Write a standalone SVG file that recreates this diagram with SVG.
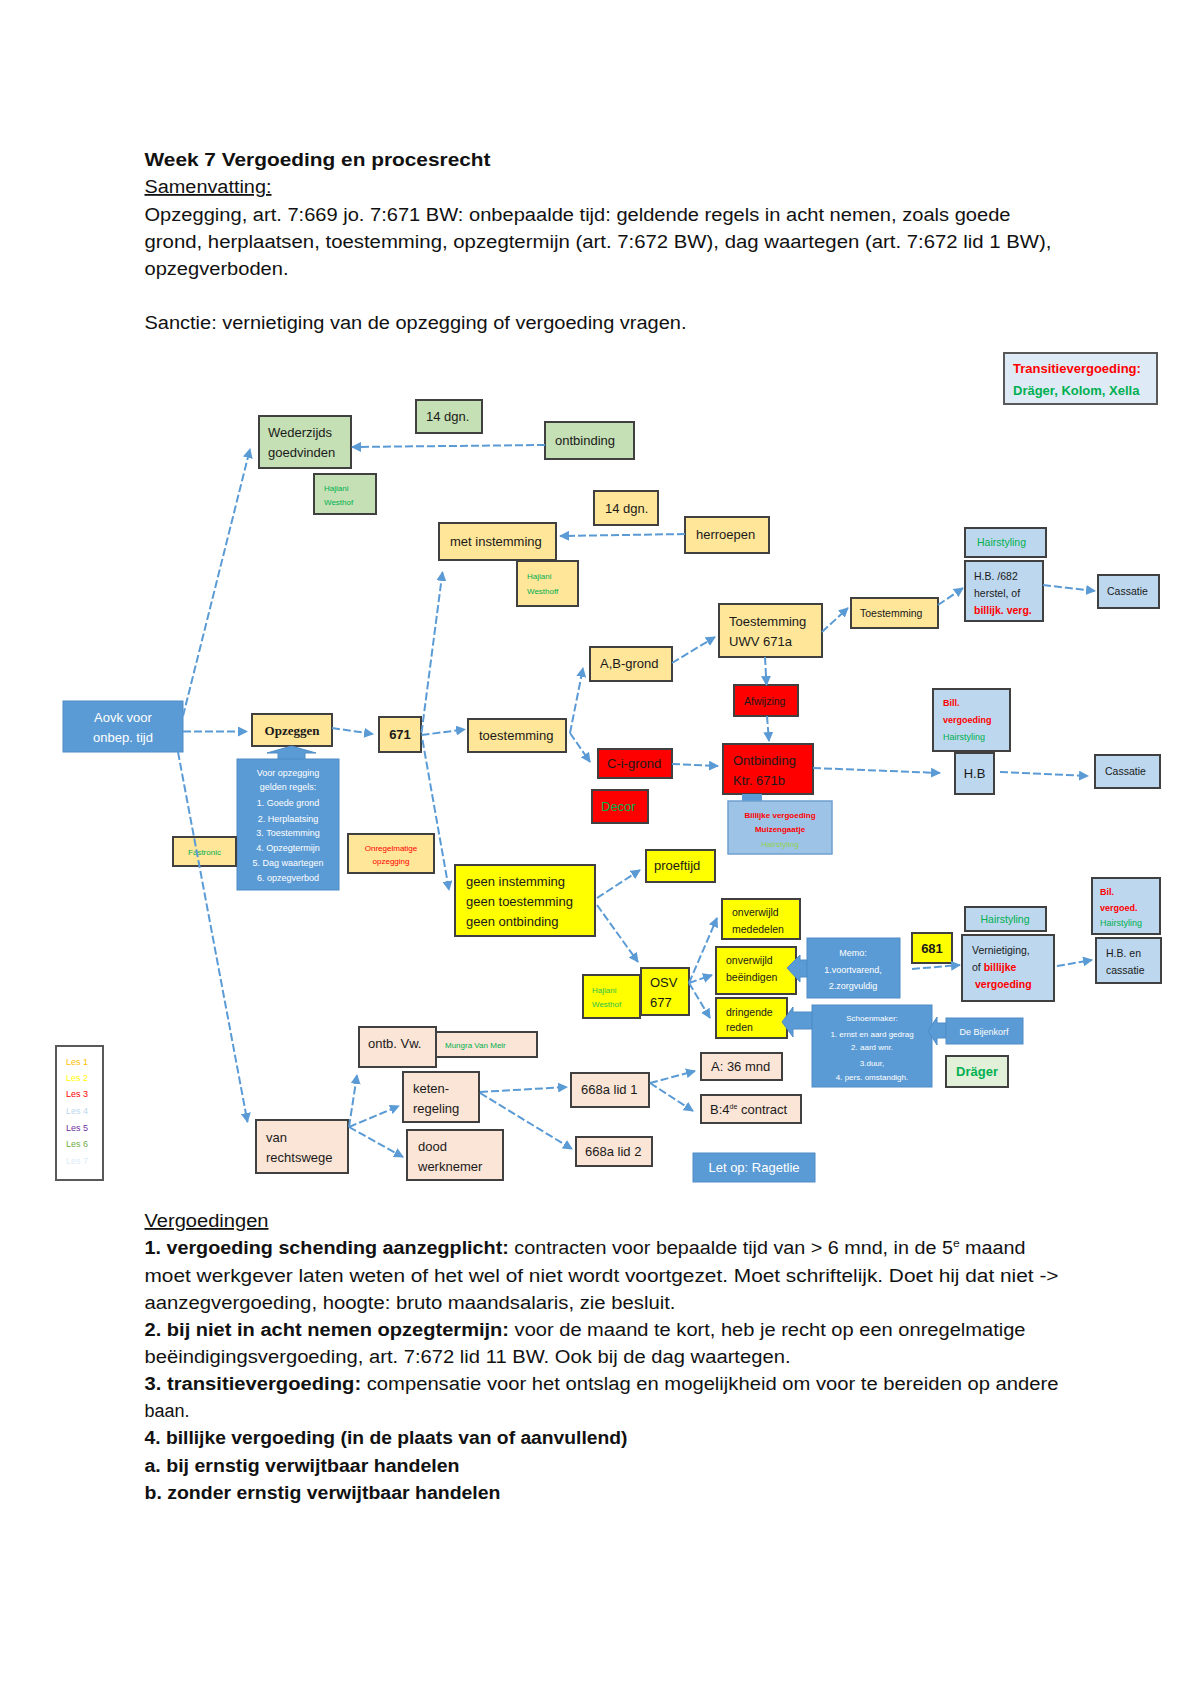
<svg xmlns="http://www.w3.org/2000/svg" width="1200" height="1698" viewBox="0 0 1200 1698">
<defs>
<marker id="ah" viewBox="0 0 10 10" refX="9" refY="5" markerWidth="10" markerHeight="10" markerUnits="userSpaceOnUse" orient="auto">
<path d="M0,0 L10,5 L0,10 z" fill="#5b9bd5"/>
</marker>
<style>
.bx{stroke:#404040;stroke-width:2}
.g{fill:#c5e0b4}.o{fill:#ffe699}.r{fill:#ff0000}.y{fill:#ffff00}.lb{fill:#bdd7ee}.p{fill:#fbe5d6}
.b{fill:#5b9bd5;stroke:#4f8cc6;stroke-width:1}
.t{font-family:"Liberation Sans",Arial,sans-serif;font-size:13px;fill:#1a1a1a}
.s{font-size:10.5px}.xs{font-size:9px}.xxs{font-size:8px}
.w{fill:#fff}.gr{fill:#00b050}.rd{fill:#ff0000}
.m{text-anchor:middle}
.bd{font-weight:bold}
.c{stroke:#5b9bd5;stroke-width:2;fill:none;stroke-dasharray:8 3;marker-end:url(#ah)}
.para{font-family:"Liberation Sans",Arial,sans-serif;font-size:18px;fill:#111}
</style>
</defs>
<rect width="1200" height="1698" fill="#fff"/>

<!-- header text -->
<g id="header">
<text class="para bd" x="144.5" y="166" font-size="20" textLength="346" lengthAdjust="spacingAndGlyphs">Week 7 Vergoeding en procesrecht</text>
<text class="para" x="144.5" y="193" text-decoration="underline" textLength="127" lengthAdjust="spacingAndGlyphs">Samenvatting:</text>
<text class="para" x="144.5" y="220.5" textLength="866" lengthAdjust="spacingAndGlyphs">Opzegging, art. 7:669 jo. 7:671 BW: onbepaalde tijd: geldende regels in acht nemen, zoals goede</text>
<text class="para" x="144.5" y="247.6" textLength="907" lengthAdjust="spacingAndGlyphs">grond, herplaatsen, toestemming, opzegtermijn (art. 7:672 BW), dag waartegen (art. 7:672 lid 1 BW),</text>
<text class="para" x="144.5" y="274.8" textLength="144" lengthAdjust="spacingAndGlyphs">opzegverboden.</text>
<text class="para" x="144.5" y="329" textLength="542" lengthAdjust="spacingAndGlyphs">Sanctie: vernietiging van de opzegging of vergoeding vragen.</text>
</g>

<!-- nodes -->
<g id="n-transitie"><rect x="1004" y="353" width="153" height="51" fill="#deebf7" stroke="#595959" stroke-width="2"/>
<text class="t bd rd" x="1013" y="373" font-size="11">Transitievergoeding:</text>
<text class="t bd gr" x="1013" y="395" font-size="11">Dräger, Kolom, Xella</text></g>

<g id="n-wederzijds"><rect class="bx g" x="259" y="416" width="92" height="52"/>
<text class="t" x="268" y="437">Wederzijds</text><text class="t" x="268" y="457">goedvinden</text></g>
<g id="n-hajiani1"><rect class="bx g" x="314" y="474" width="62" height="40"/>
<text class="t xxs gr" x="324" y="491">Hajiani</text><text class="t xxs gr" x="324" y="505">Westhof</text></g>
<g id="n-14dgn1"><rect class="bx g" x="416" y="400" width="66" height="33"/>
<text class="t" x="426" y="421">14 dgn.</text></g>
<g id="n-ontbinding"><rect class="bx g" x="545" y="422" width="89" height="37"/>
<text class="t" x="555" y="445">ontbinding</text></g>
<g id="n-14dgn2"><rect class="bx o" x="594" y="491" width="64" height="34"/>
<text class="t" x="605" y="513">14 dgn.</text></g>
<g id="n-herroepen"><rect class="bx o" x="685" y="517" width="84" height="36"/>
<text class="t" x="696" y="539">herroepen</text></g>
<g id="n-metinstemming"><rect class="bx o" x="439" y="523" width="117" height="37"/>
<text class="t" x="450" y="546">met instemming</text></g>
<g id="n-hajiani2"><rect class="bx o" x="517" y="561" width="61" height="45"/>
<text class="t xxs gr" x="527" y="579">Hajiani</text><text class="t xxs gr" x="527" y="594">Westhoff</text></g>

<g id="n-hairstyling1"><rect class="bx lb" x="965" y="528" width="81" height="29"/>
<text class="t s gr" x="977" y="546">Hairstyling</text></g>
<g id="n-hb682"><rect class="bx lb" x="965" y="561" width="78" height="60"/>
<text class="t s" x="974" y="580">H.B. /682</text><text class="t s" x="974" y="597">herstel, of</text><text class="t s bd rd" x="974" y="614">billijk. verg.</text></g>
<g id="n-cassatie1"><rect class="bx lb" x="1098" y="575" width="61" height="33"/>
<text class="t s" x="1107" y="595">Cassatie</text></g>
<g id="n-toestemming2"><rect class="bx o" x="851" y="598" width="87" height="30"/>
<text class="t s" x="860" y="617">Toestemming</text></g>
<g id="n-uwv"><rect class="bx o" x="719" y="604" width="103" height="53"/>
<text class="t" x="729" y="626">Toestemming</text><text class="t" x="729" y="646">UWV 671a</text></g>
<g id="n-abgrond"><rect class="bx o" x="590" y="647" width="82" height="34"/>
<text class="t" x="600" y="668">A,B-grond</text></g>
<g id="n-afwijzing"><rect class="bx r" x="734" y="685" width="64" height="31"/>
<text class="t s" x="744" y="705">Afwijzing</text></g>
<g id="n-ontbinding671b"><rect class="bx r" x="723" y="744" width="90" height="50"/>
<text class="t" x="733" y="765">Ontbinding</text><text class="t" x="733" y="785">Ktr. 671b</text></g>
<g id="n-billijke"><rect x="742" y="794" width="20" height="8" fill="#5b9bd5"/>
<rect x="728" y="801" width="104" height="53" fill="#9dc3e6" stroke="#6fa0d0" stroke-width="1.5"/>
<text class="t xxs bd rd m" x="780" y="818">Billijke vergoeding</text><text class="t xxs bd rd m" x="780" y="832">Muizengaatje</text><text class="t xxs m" x="780" y="847" style="fill:#92d050">Hairstyling</text></g>
<g id="n-billverg"><rect class="bx lb" x="933" y="689" width="77" height="62"/>
<text class="t xs bd rd" x="943" y="706">Bill.</text><text class="t xs bd rd" x="943" y="723">vergoeding</text><text class="t xs gr" x="943" y="740">Hairstyling</text></g>
<g id="n-hb"><rect class="bx lb" x="955" y="753" width="39" height="41"/>
<text class="t m" x="974.5" y="778">H.B</text></g>
<g id="n-cassatie2"><rect class="bx lb" x="1095" y="755" width="65" height="33"/>
<text class="t s" x="1105" y="775">Cassatie</text></g>

<g id="n-aovk"><rect class="b" x="63" y="701" width="120" height="51"/>
<text class="t w m" x="123" y="722">Aovk voor</text><text class="t w m" x="123" y="742">onbep. tijd</text></g>
<g id="n-opzeggen"><rect class="bx o" x="252" y="714" width="80" height="32"/>
<text class="t bd m" x="292" y="735" style="font-family:'Liberation Serif',serif" font-size="13">Opzeggen</text></g>
<g id="n-671"><rect class="bx o" x="379" y="717" width="42" height="35"/>
<text class="t bd m" x="400" y="739">671</text></g>
<g id="n-regels"><path class="b" d="M278,760 L278,753 L267,753 L291.5,746 L316,753 L305,753 L305,760 z"/>
<rect class="b" x="237" y="759" width="102" height="131"/>
<g class="t xs w m">
<text x="288" y="776">Voor opzegging</text><text x="288" y="790">gelden regels:</text>
<text x="288" y="806">1. Goede grond</text><text x="288" y="822">2. Herplaatsing</text>
<text x="288" y="836">3. Toestemming</text><text x="288" y="851">4. Opzegtermijn</text>
<text x="288" y="866">5. Dag waartegen</text><text x="288" y="881">6. opzegverbod</text></g></g>
<g id="n-fastronic"><rect class="bx o" x="173" y="837" width="63" height="29"/>
<text class="t xxs gr m" x="204.5" y="855">Fastronic</text></g>
<g id="n-onregelmatig"><rect class="bx o" x="348" y="834" width="86" height="39"/>
<text class="t xxs rd m" x="391" y="851">Onregelmatige</text><text class="t xxs rd m" x="391" y="864">opzegging</text></g>
<g id="n-toestemming"><rect class="bx o" x="468" y="719" width="98" height="33"/>
<text class="t" x="479" y="740">toestemming</text></g>
<g id="n-cigrond"><rect class="bx r" x="598" y="749" width="74" height="29"/>
<text class="t" x="607" y="768">C-i-grond</text></g>
<g id="n-decor"><rect class="bx r" x="592" y="790" width="56" height="33"/>
<text class="t gr" x="601" y="811">Decor</text></g>
<g id="n-geen"><rect class="bx y" x="455" y="865" width="140" height="71"/>
<text class="t" x="466" y="886">geen instemming</text><text class="t" x="466" y="906">geen toestemming</text><text class="t" x="466" y="926">geen ontbinding</text></g>
<g id="n-proeftijd"><rect class="bx y" x="646" y="850" width="69" height="32"/>
<text class="t" x="654" y="870">proeftijd</text></g>
<g id="n-mededelen"><rect class="bx y" x="722" y="899" width="78" height="40"/>
<text class="t s" x="732" y="916">onverwijld</text><text class="t s" x="732" y="933">mededelen</text></g>
<g id="n-beeindigen"><rect class="bx y" x="716" y="947" width="80" height="47"/>
<text class="t s" x="726" y="964">onverwijld</text><text class="t s" x="726" y="981">beëindigen</text></g>
<g id="n-dringende"><rect class="bx y" x="716" y="998" width="71" height="40"/>
<text class="t s" x="726" y="1016">dringende</text><text class="t s" x="726" y="1031">reden</text></g>
<g id="n-osv"><rect class="bx y" x="641" y="968" width="48" height="47"/>
<text class="t" x="650" y="987">OSV</text><text class="t" x="650" y="1007">677</text></g>
<g id="n-hajiani3"><rect class="bx y" x="583" y="975" width="57" height="43"/>
<text class="t xxs" x="592" y="993" style="fill:#2cc24a">Hajiani</text><text class="t xxs" x="592" y="1007" style="fill:#2cc24a">Westhof</text></g>
<g id="n-memo"><path class="b" d="M807,960 L800,960 L800,955 L787,968 L800,982 L800,977 L807,977 z"/>
<rect class="b" x="807" y="938" width="93" height="60"/>
<text class="t xs w m" x="853" y="956">Memo:</text><text class="t xs w m" x="853" y="973">1.voortvarend,</text><text class="t xs w m" x="853" y="989">2.zorgvuldig</text></g>
<g id="n-schoenmaker"><path class="b" d="M812,1012 L793,1012 L793,1007 L782,1022 L793,1037 L793,1029 L812,1029 z"/>
<rect class="b" x="812" y="1005" width="120" height="82"/>
<g class="t xxs w m"><text x="872" y="1021">Schoenmaker:</text><text x="872" y="1037">1. ernst en aard gedrag</text><text x="872" y="1050">2. aard wnr.</text><text x="872" y="1066">3.duur,</text><text x="872" y="1080">4. pers. omstandigh.</text></g></g>
<g id="n-bijenkorf"><path class="b" d="M946,1023 L937,1023 L937,1017 L928,1031 L937,1045 L937,1038 L946,1038 z"/>
<rect class="b" x="946" y="1018" width="77" height="26"/>
<text class="t xs w m" x="984" y="1035">De Bijenkorf</text></g>
<g id="n-drager"><rect class="bx" x="946" y="1056" width="62" height="31" fill="#e2f0d9"/>
<text class="t bd gr m" x="977" y="1076">Dräger</text></g>
<g id="n-681"><rect class="bx y" x="912" y="933" width="40" height="30"/>
<text class="t bd m" x="932" y="953">681</text></g>
<g id="n-hairstyling2"><rect class="bx lb" x="965" y="907" width="81" height="24"/>
<text class="t s gr m" x="1005" y="923">Hairstyling</text></g>
<g id="n-vernietiging"><rect class="bx lb" x="962" y="935" width="92" height="66"/>
<text class="t s" x="972" y="954">Vernietiging,</text><text class="t s" x="972" y="971">of <tspan class="bd rd">billijke</tspan></text><text class="t s bd rd" x="975" y="988">vergoeding</text></g>
<g id="n-bilvergoed"><rect class="bx lb" x="1092" y="878" width="68" height="56"/>
<text class="t xs bd rd" x="1100" y="895">Bil.</text><text class="t xs bd rd" x="1100" y="911">vergoed.</text><text class="t xs gr" x="1100" y="926">Hairstyling</text></g>
<g id="n-hbcassatie"><rect class="bx lb" x="1096" y="938" width="65" height="45"/>
<text class="t s" x="1106" y="957">H.B. en</text><text class="t s" x="1106" y="974">cassatie</text></g>

<g id="n-ontbvw"><rect class="bx p" x="359" y="1027" width="77" height="40"/>
<text class="t" x="368" y="1048">ontb. Vw.</text></g>
<g id="n-mungra"><rect class="bx p" x="436" y="1032" width="101" height="25"/>
<text class="t xxs gr" x="445" y="1048">Mungra Van Meir</text></g>
<g id="n-keten"><rect class="bx p" x="403" y="1072" width="76" height="50"/>
<text class="t" x="413" y="1093">keten-</text><text class="t" x="413" y="1113">regeling</text></g>
<g id="n-dood"><rect class="bx p" x="407" y="1130" width="96" height="50"/>
<text class="t" x="418" y="1151">dood</text><text class="t" x="418" y="1171">werknemer</text></g>
<g id="n-rechtswege"><rect class="bx p" x="256" y="1120" width="92" height="53"/>
<text class="t" x="266" y="1142">van</text><text class="t" x="266" y="1162">rechtswege</text></g>
<g id="n-668a1"><rect class="bx p" x="571" y="1073" width="78" height="34"/>
<text class="t" x="581" y="1094" font-size="12.5">668a lid 1</text></g>
<g id="n-668a2"><rect class="bx p" x="576" y="1137" width="76" height="29"/>
<text class="t" x="585" y="1156" font-size="12.5">668a lid 2</text></g>
<g id="n-36mnd"><rect class="bx p" x="701" y="1053" width="81" height="27"/>
<text class="t" x="711" y="1071">A: 36 mnd</text></g>
<g id="n-4decontract"><rect class="bx p" x="701" y="1095" width="100" height="28"/>
<text class="t" x="710" y="1114">B:4<tspan font-size="7" dy="-5">de</tspan><tspan dy="5"> contract</tspan></text></g>
<g id="n-ragetlie"><rect class="b" x="693" y="1153" width="122" height="29"/>
<text class="t w m" x="754" y="1172">Let op: Ragetlie</text></g>

<g id="legend"><rect x="56" y="1046" width="47" height="134" fill="#fff" stroke="#595959" stroke-width="2"/>
<g class="t xs"><text x="66" y="1065" style="fill:#ffc000">Les 1</text><text x="66" y="1081" style="fill:#ffff00">Les 2</text><text x="66" y="1097" style="fill:#ff0000">Les 3</text><text x="66" y="1114" style="fill:#bdd7ee">Les 4</text><text x="66" y="1131" style="fill:#7030a0">Les 5</text><text x="66" y="1147" style="fill:#70ad47">Les 6</text><text x="66" y="1164" style="fill:#deebf7">Les 7</text></g></g>

<!-- connectors -->
<g id="connectors">
<path class="c" d="M183,716 L250,449"/>
<path class="c" d="M178,752 L247.5,1122"/>
<path class="c" d="M183,731.5 L247,731.5"/>
<path class="c" d="M332,728 L373,734"/>
<path class="c" d="M421.5,733 L442.5,572"/>
<path class="c" d="M422.5,740 L449,890"/>
<path class="c" d="M421.5,735 L465,729.5"/>
<path class="c" d="M545,445 L352,447"/>
<path class="c" d="M685,534 L560,536"/>
<path class="c" d="M570,733 L583,668"/>
<path class="c" d="M570,733 L590,762"/>
<path class="c" d="M672,663 L715,637"/>
<path class="c" d="M765,657 L766.5,685"/>
<path class="c" d="M767,716 L769,741"/>
<path class="c" d="M672,764 L718,766"/>
<path class="c" d="M822,632 L848,608"/>
<path class="c" d="M938,605 L963,588"/>
<path class="c" d="M1043,585 L1095,591"/>
<path class="c" d="M813,768 L940,773"/>
<path class="c" d="M1000,772 L1088,776"/>
<path class="c" d="M597,898 L640,870"/>
<path class="c" d="M597,905 L638,962"/>
<path class="c" d="M689,983 L717,918"/>
<path class="c" d="M689,983 L712,975"/>
<path class="c" d="M689,983 L710,1018"/>
<path class="c" d="M912,969 L960,965"/>
<path class="c" d="M1057,966 L1092,960"/>
<path class="c" d="M349,1127 L357,1075"/>
<path class="c" d="M349,1127 L399,1106"/>
<path class="c" d="M349,1127 L403,1157"/>
<path class="c" d="M480,1092 L567,1087"/>
<path class="c" d="M480,1093 L572,1149"/>
<path class="c" d="M650,1083 L695,1071"/>
<path class="c" d="M650,1083 L693,1111"/>
</g>

<!-- bottom text -->
<g id="footer">
<text class="para" x="144.5" y="1227" text-decoration="underline" textLength="124" lengthAdjust="spacingAndGlyphs">Vergoedingen</text>
<text class="para" x="144.5" y="1254.3" textLength="881" lengthAdjust="spacingAndGlyphs"><tspan font-weight="bold">1. vergoeding schending aanzegplicht:</tspan> contracten voor bepaalde tijd van &gt; 6 mnd, in de 5<tspan font-size="11" dy="-7">e</tspan><tspan dy="7"> maand</tspan></text>
<text class="para" x="144.5" y="1281.5" textLength="914" lengthAdjust="spacingAndGlyphs">moet werkgever laten weten of het wel of niet wordt voortgezet. Moet schriftelijk. Doet hij dat niet -&gt;</text>
<text class="para" x="144.5" y="1308.6" textLength="531" lengthAdjust="spacingAndGlyphs">aanzegvergoeding, hoogte: bruto maandsalaris, zie besluit.</text>
<text class="para" x="144.5" y="1335.8" textLength="881" lengthAdjust="spacingAndGlyphs"><tspan font-weight="bold">2. bij niet in acht nemen opzegtermijn:</tspan> voor de maand te kort, heb je recht op een onregelmatige</text>
<text class="para" x="144.5" y="1363" textLength="646" lengthAdjust="spacingAndGlyphs">beëindigingsvergoeding, art. 7:672 lid 11 BW. Ook bij de dag waartegen.</text>
<text class="para" x="144.5" y="1390" textLength="914" lengthAdjust="spacingAndGlyphs"><tspan font-weight="bold">3. transitievergoeding:</tspan> compensatie voor het ontslag en mogelijkheid om voor te bereiden op andere</text>
<text class="para" x="144.5" y="1417">baan.</text>
<text class="para bd" x="144.5" y="1444.4" textLength="483" lengthAdjust="spacingAndGlyphs">4. billijke vergoeding (in de plaats van of aanvullend)</text>
<text class="para bd" x="144.5" y="1471.5" textLength="315" lengthAdjust="spacingAndGlyphs">a. bij ernstig verwijtbaar handelen</text>
<text class="para bd" x="144.5" y="1498.7" textLength="356" lengthAdjust="spacingAndGlyphs">b. zonder ernstig verwijtbaar handelen</text>
</g>
</svg>
